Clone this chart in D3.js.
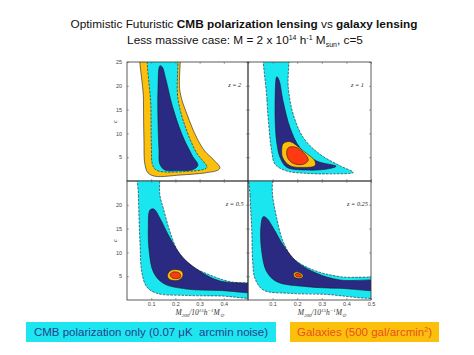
<!DOCTYPE html>
<html><head><meta charset="utf-8">
<script src="https://cdn.jsdelivr.net/npm/d3@7"></script>
<style>body{margin:0;background:#fff}svg{display:block}</style>
</head><body><svg id="chart" width="474" height="355"></svg>
<script>
// ---------- data (M200 [1e15 h^-1 Msun], c) ----------
const xTicks = [0.1, 0.2, 0.3, 0.4, 0.5];
const yTicksTop = [5, 10, 15, 20, 25];
const yTicksBottom = [5, 10, 15, 20];
const panelLabels = ["z = 2", "z = 1", "z = 0.5", "z = 0.25"];

// z = 2
const z2Gold = [[0.066,32],[0.068,17.1],[0.070,8.75],[0.074,3.5],[0.087,1.7],[0.116,1.0],[0.219,1.25],[0.322,1.7],[0.376,2.3],[0.384,2.8],[0.355,4.6],[0.322,6.25],[0.289,9.0],[0.248,14],[0.219,18.75],[0.203,32]];
const z2Cyan = [[0.098,32],[0.099,15],[0.101,6.7],[0.105,3.5],[0.120,2.3],[0.157,1.9],[0.240,2.0],[0.314,2.4],[0.331,2.9],[0.314,4.2],[0.289,5.8],[0.248,10.4],[0.211,17.1],[0.193,32]];
const z2Navy = [[0.136,24.2],[0.128,19.2],[0.128,12.6],[0.132,6.7],[0.136,3.5],[0.157,2.3],[0.219,2.2],[0.273,2.4],[0.293,3.3],[0.269,5.4],[0.227,9.8],[0.186,16],[0.161,21.3],[0.145,24]];
// z = 1
const z1Cyan = [[0.073,32],[0.077,17.1],[0.083,12.6],[0.096,6.3],[0.110,3.5],[0.157,2.1],[0.239,1.6],[0.347,1.5],[0.428,1.8],[0.374,3.2],[0.293,5.6],[0.225,9.1],[0.184,14],[0.164,19.5],[0.155,32]];
const z1Navy = [[0.117,21.9],[0.110,16],[0.112,10.8],[0.118,7.7],[0.130,5.0],[0.157,2.9],[0.239,2.3],[0.320,2.5],[0.358,3.1],[0.279,4.2],[0.211,7.0],[0.171,11.2],[0.143,16.7],[0.126,21.2]];
const z1Gold = [[0.143,7.85],[0.171,8.27],[0.225,6.3],[0.272,4.2],[0.272,3.2],[0.225,2.85],[0.171,3.2],[0.141,4.9],[0.137,6.7]];
const z1Red = [[0.164,7.0],[0.191,7.15],[0.225,6.0],[0.245,4.4],[0.225,3.5],[0.184,3.7],[0.164,4.6],[0.157,6.0]];
// z = 0.5
const z05Cyan = [[0.045,32],[0.047,22],[0.054,11.6],[0.061,5.9],[0.081,2.8],[0.123,1.4],[0.247,0.95],[0.384,0.85],[0.56,0.7],[0.56,3.0],[0.426,3.85],[0.343,5.25],[0.260,7.35],[0.212,10.1],[0.178,14.3],[0.150,19.3],[0.136,22],[0.123,32]];
const z05Navy = [[0.095,18.9],[0.088,15.1],[0.092,10.1],[0.109,5.9],[0.150,3.5],[0.247,2.3],[0.384,2.0],[0.56,1.75],[0.56,2.9],[0.384,4.0],[0.315,5.6],[0.233,8.8],[0.178,13],[0.136,17.2],[0.111,19.1]];
const z05Gold = [[0.167,5.15],[0.178,6.1],[0.202,6.4],[0.227,6.0],[0.231,5.05],[0.215,4.2],[0.190,4.1],[0.174,4.4]];
const z05Red = [[0.178,5.25],[0.186,5.8],[0.202,5.9],[0.219,5.55],[0.221,4.8],[0.207,4.5],[0.188,4.6]];
// z = 0.25
const z025Cyan = [[0.005,32],[0.008,22],[0.015,15.1],[0.019,8.05],[0.028,4.55],[0.062,2.1],[0.171,1.4],[0.306,1.2],[0.56,0.9],[0.56,4.1],[0.374,4.9],[0.265,6.3],[0.184,8.75],[0.143,12.25],[0.117,17.2],[0.100,22],[0.088,32]];
const z025Navy = [[0.062,17.5],[0.052,15.1],[0.056,10.1],[0.076,5.95],[0.117,3.85],[0.239,2.8],[0.374,2.45],[0.56,2.3],[0.56,3.8],[0.374,4.2],[0.279,5.6],[0.198,8.05],[0.143,11.55],[0.103,15.1],[0.076,17.2]];
const z025Gold = [[0.185,5.5],[0.195,5.9],[0.213,5.65],[0.224,5.05],[0.215,4.55],[0.197,4.6],[0.187,4.95]];
const z025Red = [[0.191,5.35],[0.199,5.6],[0.213,5.35],[0.217,4.95],[0.207,4.8],[0.195,5.0]];

// ---------- style ----------
const COL = {cyan:"#1ae6f0", navy:"#2a2a82", gold:"#fcc00c", red:"#ff3a10"};

const svg = d3.select("#chart");

const panels = [
  {label:panelLabels[0], x:[127,248], y:[181,62], row:0, col:0, layers:[["gold",z2Gold],["cyan",z2Cyan],["navy",z2Navy]]},
  {label:panelLabels[1], x:[248,371], y:[181,62], row:0, col:1, layers:[["cyan",z1Cyan],["navy",z1Navy],["gold",z1Gold],["red",z1Red]]},
  {label:panelLabels[2], x:[127,248], y:[300,181], row:1, col:0, layers:[["cyan",z05Cyan],["navy",z05Navy],["gold",z05Gold],["red",z05Red]]},
  {label:panelLabels[3], x:[248,371], y:[300,181], row:1, col:1, layers:[["cyan",z025Cyan],["navy",z025Navy],["gold",z025Gold],["red",z025Red]]}
];

const defs = svg.append("defs");

panels.forEach((p, i) => {
  const xs = d3.scaleLinear().domain([0, 0.5]).range(p.x);
  const ys = d3.scaleLinear().domain([0, 25]).range(p.y);
  const [xa, xb] = p.x, [yb, ya] = p.y;

  defs.append("clipPath").attr("id", "clip" + i)
    .append("rect").attr("x", xa).attr("y", ya).attr("width", xb - xa).attr("height", yb - ya);

  const g = svg.append("g");
  const body = g.append("g").attr("clip-path", `url(#clip${i})`);
  const line = d3.line().x(d => xs(d[0])).y(d => ys(d[1])).curve(d3.curveCatmullRomClosed.alpha(0.5));

  p.layers.forEach(([c, pts]) => {
    body.append("path").attr("d", line(pts))
      .attr("fill", COL[c])
      .attr("stroke", "#1a1a2a").attr("stroke-width", 0.6)
      .attr("stroke-dasharray", c === "cyan" ? "2.5,1.2" : null);
  });

  // axes with inward ticks on all sides
  const yT = p.row === 0 ? yTicksTop : yTicksBottom;
  const left = d3.axisLeft(ys).tickValues(yT).tickSizeInner(-2).tickSizeOuter(0).tickPadding(5)
    .tickFormat(p.col === 0 ? d3.format("d") : () => "");
  const right = d3.axisRight(ys).tickValues(yT).tickSizeInner(-2).tickSizeOuter(0).tickFormat(() => "");
  const bottom = d3.axisBottom(xs).tickValues(p.col === 0 ? xTicks.slice(0, 4) : xTicks).tickSizeInner(-2).tickSizeOuter(0).tickPadding(2)
    .tickFormat(p.row === 1 ? d3.format(".1f") : () => "");
  const top = d3.axisTop(xs).tickValues(xTicks).tickSizeInner(-2).tickSizeOuter(0).tickFormat(() => "");

  [[left, `translate(${xa},0)`], [right, `translate(${xb},0)`], [bottom, `translate(0,${yb})`], [top, `translate(0,${ya})`]]
    .forEach(([ax, tr]) => {
      const a = g.append("g").attr("transform", tr).call(ax);
      a.select(".domain").remove();
      a.selectAll("line").attr("stroke", "#777").attr("stroke-width", 0.6);
      a.selectAll("text").attr("font-family", "Liberation Sans, Arial, sans-serif").attr("font-size", 5.5).attr("fill", "#444");
    });

  g.append("rect").attr("x", xa).attr("y", ya).attr("width", xb - xa).attr("height", yb - ya)
    .attr("fill", "none").attr("stroke", "#333").attr("stroke-width", 0.8);

  g.append("text").attr("x", xs(0.445)).attr("y", ys(19.8)).attr("text-anchor", "middle")
    .attr("font-family", "Liberation Serif, serif").attr("font-style", "italic").attr("font-size", 6.3).attr("fill", "#222")
    .text(p.label);

  if (p.col === 0) {
    g.append("text").attr("transform", `translate(${xa - 10},${ys(12.5)}) rotate(-90)`).attr("text-anchor", "middle")
      .attr("font-family", "Liberation Serif, serif").attr("font-style", "italic").attr("font-size", 7).attr("fill", "#333")
      .text("c");
  }
  if (p.row === 1) {
    const t = g.append("text").attr("x", xs(0.3)).attr("y", yb + 15).attr("text-anchor", "middle")
      .attr("font-family", "Liberation Serif, serif").attr("font-style", "italic").attr("font-size", 7.5).attr("fill", "#333");
    t.append("tspan").text("M");
    t.append("tspan").attr("font-size", 5).attr("dy", 1.5).text("200");
    t.append("tspan").attr("dy", -1.5).text("/10");
    t.append("tspan").attr("font-size", 5).attr("dy", -3).text("15");
    t.append("tspan").attr("dy", 3).text("h");
    t.append("tspan").attr("font-size", 5).attr("dy", -3).text("−1");
    t.append("tspan").attr("dy", 3).text("M");
    t.append("tspan").attr("font-size", 5).attr("dy", 1.5).text("⊙");
  }
});

// ---------- title ----------
const FF = "Liberation Sans, Arial, Helvetica, sans-serif";
const t1 = svg.append("text").attr("x", 244).attr("y", 28).attr("text-anchor", "middle")
  .attr("font-family", FF).attr("font-size", 11.8).attr("fill", "#111");
t1.append("tspan").text("Optimistic Futuristic ");
t1.append("tspan").attr("font-weight", "bold").text("CMB polarization lensing");
t1.append("tspan").text(" vs ");
t1.append("tspan").attr("font-weight", "bold").text("galaxy lensing");

const t2 = svg.append("text").attr("x", 245).attr("y", 44).attr("text-anchor", "middle")
  .attr("font-family", FF).attr("font-size", 11.8).attr("fill", "#111");
t2.append("tspan").text("Less massive case: M = 2 x 10");
t2.append("tspan").attr("font-size", 7).attr("dy", -4).text("14");
t2.append("tspan").attr("dy", 4).text(" h");
t2.append("tspan").attr("font-size", 7).attr("dy", -4).text("-1");
t2.append("tspan").attr("dy", 4).text(" M");
t2.append("tspan").attr("font-size", 7).attr("dy", 3).text("sun");
t2.append("tspan").attr("dy", -3).text(", c=5");

// ---------- legend ----------
svg.append("rect").attr("x", 26).attr("y", 322).attr("width", 250).attr("height", 20).attr("fill", "#1ee6f0");
svg.append("text").attr("x", 151).attr("y", 336).attr("text-anchor", "middle").attr("font-family", FF)
  .attr("font-size", 11.5).attr("fill", "#25418e").style("white-space", "pre")
  .text("CMB polarization only (0.07 μK  arcmin noise)");
svg.append("rect").attr("x", 290).attr("y", 322).attr("width", 149).attr("height", 20).attr("fill", "#fcc00c");
const lg = svg.append("text").attr("x", 364.5).attr("y", 336).attr("text-anchor", "middle").attr("font-family", FF)
  .attr("font-size", 11.5).attr("fill", "#e8501c");
lg.append("tspan").text("Galaxies (500 gal/arcmin");
lg.append("tspan").attr("font-size", 7).attr("dy", -4).text("2");
lg.append("tspan").attr("dy", 4).text(")");
</script></body></html>
